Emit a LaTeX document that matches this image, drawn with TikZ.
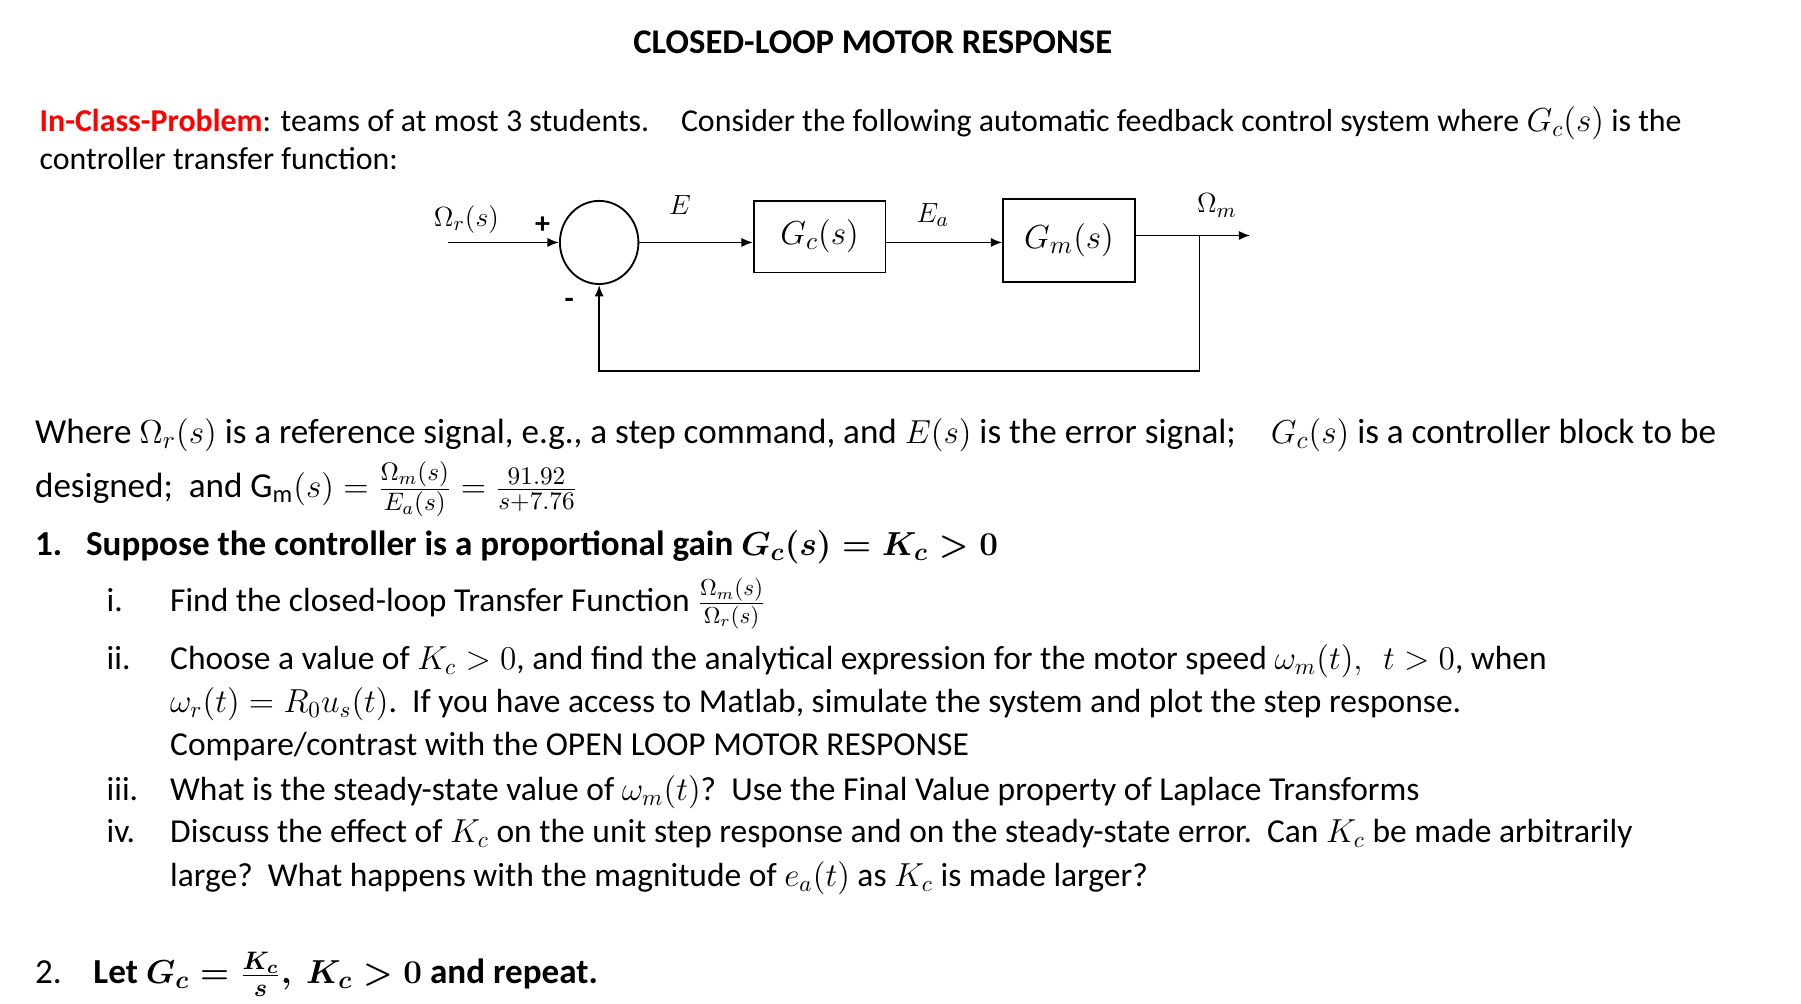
\documentclass[tikz,border=0pt]{standalone}
\usepackage{amsmath}
\usepackage{fontspec}
\setmainfont{Carlito}
\usetikzlibrary{arrows.meta,shapes.geometric}
\begin{document}
\fontsize{14.5}{17}\selectfont
\begin{tikzpicture}[x=0.5pt,y=-0.5pt,
  txt/.style={anchor=base west,inner sep=0pt,font=\fontsize{14.5}{17}\selectfont},
  blk/.style={draw,thick,inner sep=0pt,minimum width=57pt,font=\fontsize{15}{17}\selectfont},
  sig/.style={thick,-{Latex[length=5pt,width=4pt]}},
  lbl/.style={inner sep=0pt,font=\fontsize{13}{15}\selectfont}]
\useasboundingbox (0,0) rectangle (1560,869);
\node[inner sep=0pt,font=\bfseries\fontsize{15}{17}\selectfont] (title) at (756,37) {CLOSED-LOOP MOTOR RESPONSE};
\node[txt,font=\fontsize{13.8}{17}\selectfont] (l1) at (34,114) {\textcolor{red}{\textbf{In-Class-Problem}}: teams of at most 3 students.\quad Consider the following automatic feedback control system where $G_c(s)$ is the};
\node[txt,font=\fontsize{13.8}{17}\selectfont] (l2) at (34,147) {controller transfer function:};
% diagram
\node[draw,thick,ellipse,minimum width=34pt,minimum height=36pt,inner sep=0pt] (sum) at (519,210) {};
\node[blk,minimum height=31pt] (gc) at (710,205) {$G_c(s)$};
\node[blk,minimum height=36pt] (gm) at (926,208) {$G_m(s)$};
\coordinate (in) at (388,210);
\coordinate (out) at (1083,204);
\coordinate (br) at (1039,204);
\coordinate (c1) at (1039,321);
\coordinate (c2) at (519,321);
\draw[sig] (in) -- (sum.west);
\draw[sig] (sum.east) -- (gc.west |- sum.east);
\draw[sig] (gc.east |- 0,210) -- (gm.west |- 0,210);
\draw[sig] (gm.east |- out) -- (out);
\draw[sig] (br) -- (c1) -- (c2) -- (sum.south);
\node[lbl] (lr) at (404,190) {$\Omega_r(s)$};
\node[lbl] (lp) at (470,195) {\textbf{+}};
\node[lbl] (lm) at (493,263) {\textbf{-}};
\node[lbl] (le) at (589,178) {$E$};
\node[lbl] (lea) at (808,186) {$E_a$};
\node[lbl] (lom) at (1054,178) {$\Omega_m$};
% text
\node[txt,font=\fontsize{15.2}{17}\selectfont] (w1) at (30,384) {Where $\Omega_r(s)$ is a reference signal, e.g., a step command, and $E(s)$ is the error signal;\quad $G_c(s)$ is a controller block to be};
\node[txt,font=\fontsize{15.2}{17}\selectfont] (w2) at (30,431) {designed;\ \ and $\mathrm{G_m}(s)=\frac{\Omega_m(s)}{E_a(s)}=\frac{91.92}{s{+}7.76}$};
\node[txt,font=\fontsize{15.2}{17}\selectfont] (q1) at (30,481) {\textbf{1.\ \ \ Suppose the controller is a proportional gain $\boldsymbol{G_c(s)=K_c>0}$}};
\node[txt] (qi) at (92,530) {i.};
\node[txt] (qit) at (147,530) {Find the closed-loop Transfer Function $\frac{\Omega_m(s)}{\Omega_r(s)}$};
\node[txt] (qii) at (92,580) {ii.};
\node[txt] (qii1) at (147,580) {Choose a value of $K_c>0$, and find the analytical expression for the motor speed $\omega_m(t),\ \ t>0$, when};
\node[txt] (qii2) at (147,617) {$\omega_r(t)=R_0u_s(t)$.\ \ If you have access to Matlab, simulate the system and plot the step response.};
\node[txt] (qii3) at (147,654) {Compare/contrast with the OPEN LOOP MOTOR RESPONSE};
\node[txt] (qiii) at (92,693) {iii.};
\node[txt] (qiiit) at (147,693) {What is the steady-state value of $\omega_m(t)$?\ \ Use the Final Value property of Laplace Transforms};
\node[txt] (qiv) at (92,730) {iv.};
\node[txt] (qiv1) at (147,730) {Discuss the effect of $K_c$ on the unit step response and on the steady-state error.\ \ Can $K_c$ be made arbitrarily};
\node[txt] (qiv2) at (147,768) {large?\ \ What happens with the magnitude of\ $e_a(t)$ as $K_c$ is made larger?};
\node[txt,font=\fontsize{15.2}{17}\selectfont] (q2) at (30,852) {2.\ \ \ \ \textbf{Let $\boldsymbol{G_c=\frac{K_c}{s},\ K_c>0}$ and repeat.}};
\end{tikzpicture}
\end{document}
